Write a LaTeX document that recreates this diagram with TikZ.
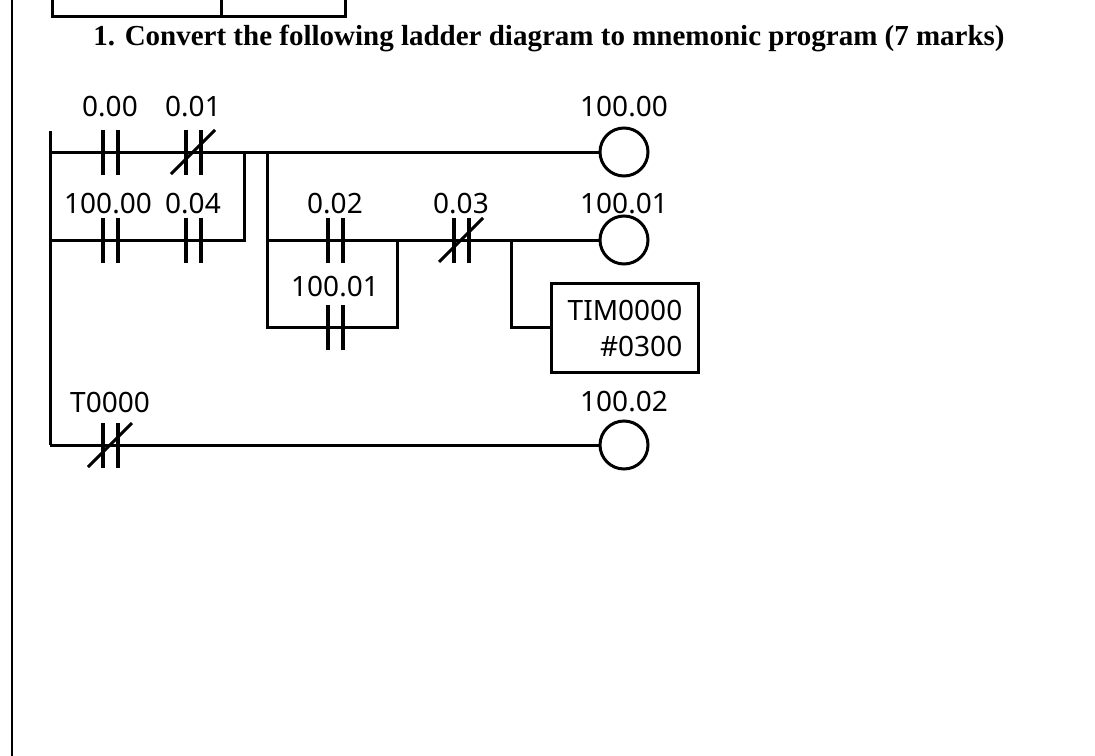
\documentclass[tikz,border=0pt]{standalone}
\usepackage{fontspec}
\setmainfont{Liberation Serif}
\newfontfamily\labelfont{Noto Sans}
\usetikzlibrary{calc, positioning}

% contact symbols drawn round a named coordinate
\newcommand{\contactNO}[1]{%
  \draw[plate] ($(#1)+(-7.5,-22)$) -- ($(#1)+(-7.5,23)$);
  \draw[plate] ($(#1)+(7.5,-22)$) -- ($(#1)+(7.5,23)$);}
\newcommand{\contactNC}[1]{%
  \contactNO{#1}
  \draw[wire] ($(#1)+(-22,22)$) -- ($(#1)+(22,-22)$);}

\begin{document}
\begin{tikzpicture}[x=1pt, y=-1pt,
  wire/.style={line width=3pt},
  plate/.style={line width=4pt},
  lbl/.style={font=\labelfont\fontsize{28}{30}\selectfont, inner sep=0pt},
  coil/.style={circle, draw, line width=3pt, minimum size=48pt, inner sep=0pt},
  timer/.style={draw, line width=3pt, minimum width=147pt, minimum height=89pt, inner sep=6pt,
    align=right, font=\labelfont\fontsize{28}{36}\selectfont}]
\useasboundingbox (0,0) rectangle (1095,755);

% frame
\draw[line width=2.5pt] (12,-5) -- (12,760);
\draw[line width=3pt] (52,-5) -- (52,16) -- (345,16) -- (345,-5);
\draw[line width=3pt] (221,-5) -- (221,16);
\node[font=\bfseries\fontsize{29}{32}\selectfont, inner sep=0pt] (title) at (549,38)
  {1. Convert the following ladder diagram to mnemonic program (7 marks)};

% rails and junctions
\coordinate (railT) at (50,131);
\coordinate (railB) at (50,445);
\coordinate (r1) at (50,152);
\coordinate (r2) at (50,240);
\coordinate (jA) at (244,152);
\coordinate (jB) at (244,240);
\coordinate (jC) at (267,152);
\coordinate (jD) at (267,240);
\coordinate (jE) at (267,327);
\coordinate (jF) at (397,240);
\coordinate (jG) at (397,327);
\coordinate (jH) at (511,240);
\coordinate (jI) at (511,327);

% contacts
\coordinate (c000) at (110,152);
\coordinate (c001) at (193,152);
\coordinate (c10000) at (110,240);
\coordinate (c004) at (193,240);
\coordinate (c002) at (335,240);
\coordinate (c10001) at (335,327);
\coordinate (c003) at (461,240);
\coordinate (cT) at (110,445);

% outputs
\node[coil] (y0) at (624,152) {};
\node[coil] (y1) at (624,240) {};
\node[coil] (y2) at (624,445) {};
\node[timer, anchor=north west] (tim) at (550,282) {TIM0000\\\#0300};

% wires
\draw[wire] (railT) -- (railB);
\draw[wire] (r1) -- (c000) -- (c001) -- (jA) -- (y0.west);
\draw[wire] (r2) -- (c10000) -- (c004) -- (jB) -- (jA);
\draw[wire] (jC) -- (jE) -- (c10001) -- (jG) -- (jF);
\draw[wire] (jD) -- (c002) -- (jF) -- (c003) -- (jH) -- (y1.west);
\draw[wire] (jH) -- (jI) -- (tim.west |- jI);
\draw[wire] (railB) -- (cT) -- (y2.west);

\contactNO{c000}
\contactNC{c001}
\contactNO{c10000}
\contactNO{c004}
\contactNO{c002}
\contactNO{c10001}
\contactNC{c003}
\contactNC{cT}

% labels
\node[lbl] (l000) at (110,107) {0.00};
\node[lbl] (l001) at (193,107) {0.01};
\node[lbl] (ly0) at (624,107) {100.00};
\node[lbl] (l10000) at (108,204) {100.00};
\node[lbl] (l004) at (193,204) {0.04};
\node[lbl] (l002) at (335,204) {0.02};
\node[lbl] (l003) at (461,204) {0.03};
\node[lbl] (ly1) at (624,204) {100.01};
\node[lbl] (l10001) at (335,287) {100.01};
\node[lbl] (lT) at (110,402) {T0000};
\node[lbl] (ly2) at (624,402) {100.02};
\end{tikzpicture}
\end{document}
